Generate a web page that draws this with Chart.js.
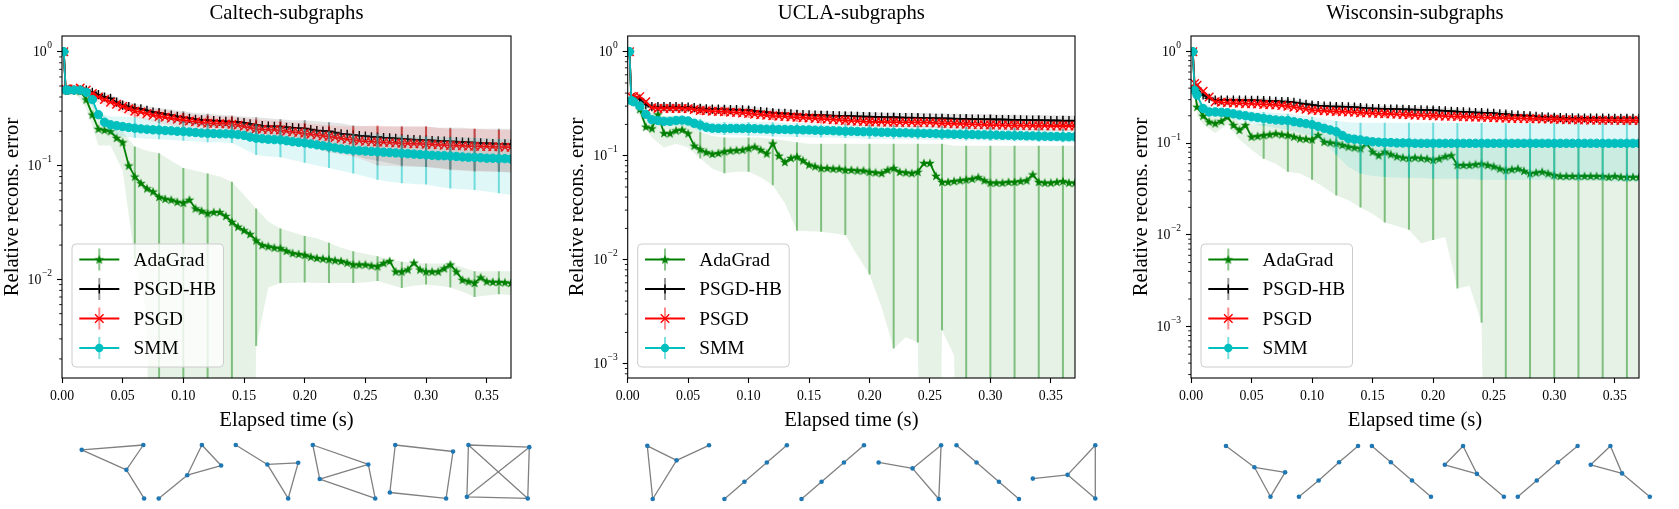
<!DOCTYPE html>
<html><head><meta charset="utf-8">
<script src="https://cdn.jsdelivr.net/npm/chart.js@4.4.0/dist/chart.umd.min.js"></script>
<style>
html,body{margin:0;padding:0;background:#fff;width:1679px;height:509px;overflow:hidden;position:relative}
canvas{position:absolute}
</style></head><body>
<canvas id="p0" width="560" height="434" style="left:0px;top:0px"></canvas>
<canvas id="p1" width="560" height="434" style="left:560px;top:0px"></canvas>
<canvas id="p2" width="560" height="434" style="left:1119px;top:0px"></canvas>
<canvas id="g0" width="472" height="75" style="left:70px;top:435px"></canvas>
<canvas id="g1" width="472" height="75" style="left:636px;top:435px"></canvas>
<canvas id="g2" width="448" height="75" style="left:1214px;top:435px"></canvas>
<script>
// ---------------- DATA ----------------
const TITLES = ['Caltech-subgraphs', 'UCLA-subgraphs', 'Wisconsin-subgraphs'];
const SERIES_NAMES = ['AdaGrad', 'PSGD-HB', 'PSGD', 'SMM'];
const X_TICKS = [0, 0.05, 0.1, 0.15, 0.2, 0.25, 0.3, 0.35];
const Y_MAJOR = [0.001, 0.01, 0.1, 1];
const X_LABEL = 'Elapsed time (s)';
const Y_LABEL = 'Relative recons. error';

// time stamps of the mean curves
const T = [0.0015,0.003,0.005,0.01,0.015,0.02,0.025,0.03,0.035,0.04,0.045,0.05,0.055,0.06,0.065,0.07,0.075,0.08,0.085,0.09,0.095,0.1,0.105,0.11,0.115,0.12,0.125,0.13,0.135,0.14,0.145,0.15,0.155,0.16,0.165,0.17,0.175,0.18,0.185,0.19,0.195,0.2,0.205,0.21,0.215,0.22,0.225,0.23,0.235,0.24,0.245,0.25,0.255,0.26,0.265,0.27,0.275,0.28,0.285,0.29,0.295,0.3,0.305,0.31,0.315,0.32,0.325,0.33,0.335,0.34,0.345,0.35,0.355,0.36,0.365,0.37];
// time stamps of the shaded bands (mean +/- std)
const TB = [0.005,0.01,0.02,0.03,0.04,0.05,0.06,0.07,0.08,0.09,0.1,0.11,0.12,0.13,0.14,0.15,0.16,0.17,0.18,0.19,0.2,0.21,0.22,0.23,0.24,0.25,0.26,0.27,0.28,0.29,0.3,0.31,0.32,0.33,0.34,0.35,0.36,0.37];
// times at which error bars are drawn
const ERR_T = [0.06,0.08,0.1,0.12,0.14,0.16,0.18,0.2,0.22,0.24,0.26,0.28,0.3,0.32,0.34,0.36];

// ---- Caltech ----
const caltechAdaGrad = [1.0,0.46,0.46,0.46,0.45,0.38,0.28,0.21,0.205,0.2,0.175,0.16,0.1,0.08,0.07,0.063,0.059,0.053,0.051,0.05,0.048,0.047,0.05,0.042,0.04,0.038,0.039,0.039,0.036,0.032,0.029,0.027,0.025,0.022,0.02,0.0195,0.019,0.0188,0.0178,0.017,0.0167,0.0164,0.0158,0.0154,0.0152,0.015,0.0147,0.0145,0.014,0.0135,0.0135,0.0135,0.0132,0.013,0.0139,0.0145,0.0117,0.0117,0.0122,0.014,0.0122,0.0117,0.0117,0.0117,0.0125,0.0135,0.0117,0.0099,0.0096,0.0093,0.0104,0.0096,0.0095,0.0095,0.0094,0.0093];
const caltechPsgdHb = [1.0,0.46,0.46,0.46,0.46,0.46,0.44,0.42,0.40,0.39,0.36,0.34,0.33,0.32,0.315,0.305,0.295,0.29,0.283,0.277,0.27,0.265,0.26,0.255,0.252,0.25,0.248,0.246,0.244,0.243,0.241,0.238,0.232,0.227,0.224,0.222,0.221,0.22,0.217,0.215,0.213,0.212,0.207,0.203,0.201,0.2,0.195,0.19,0.188,0.186,0.183,0.181,0.179,0.178,0.176,0.175,0.173,0.172,0.17,0.169,0.168,0.167,0.166,0.165,0.164,0.163,0.162,0.161,0.16,0.159,0.158,0.157,0.156,0.155,0.155,0.154];
const caltechPsgd = [1.0,0.47,0.47,0.47,0.48,0.46,0.43,0.40,0.38,0.36,0.345,0.33,0.315,0.30,0.295,0.285,0.277,0.27,0.265,0.26,0.255,0.25,0.246,0.242,0.238,0.235,0.234,0.233,0.232,0.231,0.226,0.22,0.215,0.21,0.208,0.207,0.206,0.205,0.2,0.197,0.195,0.192,0.188,0.185,0.182,0.18,0.176,0.173,0.17,0.168,0.165,0.163,0.162,0.161,0.16,0.159,0.158,0.157,0.156,0.155,0.155,0.154,0.153,0.152,0.151,0.15,0.15,0.149,0.148,0.148,0.147,0.147,0.146,0.146,0.145,0.145];
const caltechSmm = [1.0,0.46,0.46,0.46,0.46,0.44,0.38,0.28,0.24,0.228,0.224,0.22,0.216,0.213,0.21,0.208,0.206,0.205,0.203,0.202,0.2,0.199,0.197,0.195,0.193,0.192,0.191,0.19,0.19,0.189,0.187,0.184,0.178,0.174,0.172,0.17,0.169,0.168,0.165,0.162,0.16,0.158,0.155,0.152,0.149,0.146,0.143,0.14,0.138,0.136,0.135,0.134,0.133,0.132,0.131,0.13,0.129,0.128,0.127,0.126,0.125,0.124,0.123,0.122,0.122,0.121,0.12,0.119,0.118,0.118,0.117,0.116,0.116,0.115,0.115,0.114];
const caltechAdaGradHi = [0.47,0.47,0.45,0.30,0.25,0.2,0.147,0.135,0.128,0.11,0.095,0.09,0.085,0.08,0.072,0.055,0.042,0.032,0.028,0.026,0.024,0.023,0.021,0.019,0.0177,0.0168,0.016,0.015,0.0143,0.014,0.0138,0.0138,0.0138,0.0128,0.0118,0.0118,0.0118,0.0118];
const caltechAdaGradLo = [0.45,0.45,0.32,0.15,0.15,0.09,0.015,0.005,0,0,0,0,0,0,0,0,0.0026,0.0085,0.0093,0.0093,0.0094,0.0093,0.0093,0.0093,0.0093,0.0094,0.0097,0.009,0.0084,0.0088,0.009,0.0088,0.0085,0.0078,0.007,0.0072,0.0074,0.0073];
const caltechPsgdHbHi = [0.47,0.47,0.48,0.45,0.42,0.37,0.35,0.33,0.32,0.31,0.3,0.29,0.285,0.28,0.275,0.27,0.265,0.26,0.255,0.25,0.25,0.245,0.24,0.235,0.225,0.222,0.22,0.22,0.22,0.22,0.22,0.215,0.215,0.215,0.21,0.21,0.21,0.21];
const caltechPsgdHbLo = [0.45,0.45,0.44,0.39,0.35,0.31,0.29,0.28,0.26,0.25,0.235,0.225,0.22,0.215,0.21,0.2,0.19,0.185,0.18,0.175,0.17,0.16,0.155,0.145,0.125,0.115,0.11,0.105,0.1,0.098,0.097,0.095,0.093,0.091,0.09,0.089,0.088,0.087];
const caltechPsgdHi = [0.49,0.49,0.49,0.44,0.4,0.37,0.34,0.32,0.31,0.3,0.29,0.28,0.275,0.27,0.27,0.26,0.255,0.25,0.245,0.24,0.235,0.23,0.225,0.222,0.22,0.222,0.225,0.222,0.22,0.22,0.22,0.215,0.21,0.21,0.21,0.207,0.205,0.205];
const caltechPsgdLo = [0.45,0.45,0.43,0.36,0.32,0.29,0.265,0.25,0.235,0.225,0.215,0.205,0.2,0.195,0.19,0.18,0.17,0.165,0.16,0.155,0.15,0.14,0.13,0.125,0.12,0.11,0.1,0.099,0.098,0.098,0.097,0.094,0.091,0.09,0.088,0.088,0.088,0.087];
const caltechSmmHi = [0.47,0.47,0.46,0.29,0.27,0.27,0.265,0.26,0.255,0.25,0.245,0.24,0.235,0.235,0.235,0.235,0.23,0.225,0.22,0.215,0.21,0.205,0.2,0.195,0.19,0.19,0.19,0.185,0.185,0.18,0.18,0.178,0.178,0.176,0.175,0.174,0.172,0.17];
const caltechSmmLo = [0.45,0.45,0.42,0.26,0.19,0.18,0.175,0.172,0.17,0.168,0.165,0.163,0.16,0.16,0.158,0.14,0.124,0.12,0.118,0.112,0.106,0.1,0.095,0.09,0.085,0.08,0.075,0.072,0.07,0.069,0.068,0.065,0.063,0.062,0.061,0.059,0.057,0.055];

// ---- UCLA ----
const uclaAdaGrad = [1.0,0.34,0.33,0.28,0.19,0.183,0.25,0.165,0.164,0.175,0.178,0.164,0.125,0.115,0.108,0.104,0.106,0.11,0.112,0.113,0.114,0.118,0.122,0.114,0.105,0.131,0.1,0.087,0.095,0.098,0.09,0.082,0.079,0.076,0.076,0.075,0.075,0.073,0.073,0.072,0.072,0.07,0.069,0.068,0.073,0.076,0.07,0.069,0.068,0.07,0.085,0.085,0.064,0.056,0.056,0.057,0.058,0.059,0.06,0.062,0.058,0.055,0.055,0.055,0.056,0.056,0.057,0.058,0.066,0.056,0.055,0.055,0.056,0.057,0.055,0.055];
const uclaPsgdHb = [1.0,0.36,0.36,0.35,0.31,0.296,0.296,0.296,0.296,0.296,0.295,0.294,0.29,0.285,0.283,0.281,0.28,0.279,0.278,0.277,0.276,0.275,0.27,0.266,0.262,0.259,0.256,0.255,0.252,0.25,0.248,0.247,0.246,0.245,0.244,0.243,0.242,0.241,0.24,0.239,0.238,0.237,0.236,0.235,0.234,0.234,0.233,0.232,0.232,0.231,0.23,0.23,0.229,0.228,0.228,0.227,0.226,0.226,0.225,0.225,0.224,0.224,0.223,0.223,0.222,0.221,0.221,0.22,0.22,0.219,0.219,0.218,0.218,0.217,0.217,0.217];
const uclaPsgd = [1.0,0.37,0.37,0.37,0.33,0.29,0.285,0.285,0.285,0.285,0.284,0.283,0.278,0.272,0.27,0.268,0.266,0.264,0.262,0.26,0.258,0.255,0.251,0.248,0.245,0.242,0.24,0.238,0.236,0.234,0.232,0.23,0.228,0.226,0.224,0.222,0.22,0.218,0.216,0.215,0.213,0.212,0.211,0.211,0.21,0.21,0.209,0.209,0.209,0.208,0.208,0.208,0.206,0.205,0.204,0.203,0.202,0.201,0.2,0.199,0.198,0.197,0.197,0.196,0.196,0.195,0.195,0.195,0.194,0.194,0.194,0.193,0.193,0.193,0.193,0.193];
const uclaSmm = [1.0,0.34,0.33,0.3,0.25,0.222,0.218,0.214,0.214,0.218,0.22,0.216,0.205,0.197,0.188,0.184,0.183,0.183,0.183,0.183,0.183,0.183,0.182,0.181,0.18,0.18,0.179,0.179,0.178,0.178,0.177,0.177,0.176,0.175,0.175,0.174,0.173,0.172,0.172,0.171,0.17,0.17,0.169,0.168,0.168,0.167,0.166,0.166,0.165,0.165,0.164,0.164,0.163,0.162,0.162,0.161,0.161,0.16,0.16,0.159,0.159,0.158,0.158,0.157,0.157,0.156,0.156,0.155,0.155,0.154,0.154,0.153,0.153,0.152,0.152,0.152];
const uclaAdaGradHi = [0.34,0.32,0.26,0.24,0.24,0.22,0.17,0.155,0.15,0.15,0.15,0.15,0.145,0.14,0.135,0.13,0.13,0.13,0.13,0.13,0.13,0.13,0.13,0.13,0.13,0.13,0.13,0.125,0.125,0.125,0.125,0.125,0.125,0.125,0.125,0.125,0.125,0.125];
const uclaAdaGradLo = [0.32,0.24,0.15,0.12,0.13,0.12,0.094,0.075,0.068,0.07,0.07,0.062,0.052,0.035,0.019,0.0188,0.0186,0.018,0.0173,0.011,0.0072,0.0035,0.0014,0.0018,0.0016,0,0.0021,0.0012,0,0,0,0,0,0,0,0,0,0];
const uclaPsgdHbHi = [0.38,0.37,0.32,0.32,0.32,0.315,0.31,0.305,0.303,0.3,0.298,0.29,0.283,0.279,0.275,0.272,0.27,0.268,0.266,0.264,0.262,0.26,0.259,0.258,0.257,0.256,0.254,0.253,0.252,0.251,0.25,0.249,0.248,0.247,0.246,0.245,0.244,0.244];
const uclaPsgdHbLo = [0.34,0.33,0.275,0.275,0.275,0.273,0.262,0.258,0.256,0.254,0.252,0.243,0.236,0.232,0.228,0.225,0.222,0.22,0.218,0.216,0.214,0.212,0.21,0.208,0.207,0.206,0.204,0.203,0.202,0.201,0.2,0.199,0.198,0.197,0.196,0.195,0.194,0.194];
const uclaPsgdHi = [0.4,0.4,0.315,0.312,0.312,0.31,0.3,0.295,0.29,0.286,0.282,0.274,0.268,0.264,0.26,0.256,0.252,0.248,0.244,0.24,0.237,0.236,0.235,0.234,0.233,0.233,0.23,0.228,0.226,0.224,0.222,0.221,0.22,0.219,0.218,0.217,0.217,0.217];
const uclaPsgdLo = [0.34,0.34,0.265,0.262,0.262,0.26,0.248,0.245,0.242,0.238,0.232,0.226,0.22,0.216,0.212,0.208,0.204,0.2,0.196,0.193,0.19,0.189,0.188,0.187,0.186,0.186,0.183,0.181,0.179,0.177,0.176,0.175,0.174,0.174,0.173,0.172,0.172,0.172];
const uclaSmmHi = [0.34,0.32,0.25,0.24,0.245,0.24,0.225,0.21,0.21,0.21,0.21,0.21,0.21,0.205,0.205,0.205,0.2,0.2,0.2,0.198,0.197,0.196,0.195,0.194,0.193,0.192,0.191,0.19,0.189,0.188,0.187,0.186,0.185,0.184,0.183,0.182,0.181,0.18];
const uclaSmmLo = [0.32,0.28,0.2,0.19,0.195,0.19,0.172,0.16,0.158,0.157,0.156,0.155,0.153,0.152,0.151,0.15,0.15,0.149,0.148,0.146,0.145,0.145,0.144,0.144,0.143,0.142,0.142,0.141,0.14,0.14,0.139,0.138,0.138,0.137,0.136,0.136,0.135,0.135];

// ---- Wisconsin ----
const wiscAdaGrad = [1.0,0.38,0.25,0.2,0.172,0.165,0.175,0.195,0.158,0.14,0.158,0.118,0.12,0.123,0.125,0.128,0.125,0.123,0.118,0.113,0.112,0.11,0.123,0.104,0.102,0.1,0.096,0.092,0.09,0.088,0.1,0.081,0.074,0.081,0.076,0.072,0.07,0.069,0.07,0.069,0.068,0.066,0.068,0.072,0.074,0.058,0.058,0.058,0.059,0.06,0.058,0.056,0.053,0.051,0.052,0.053,0.05,0.047,0.048,0.049,0.047,0.045,0.044,0.044,0.044,0.044,0.044,0.044,0.044,0.044,0.043,0.044,0.043,0.043,0.043,0.043];
const wiscPsgdHb = [1.0,0.42,0.4,0.337,0.31,0.297,0.297,0.297,0.297,0.297,0.296,0.295,0.294,0.292,0.29,0.288,0.286,0.285,0.28,0.273,0.267,0.262,0.258,0.255,0.253,0.252,0.251,0.25,0.248,0.245,0.242,0.24,0.239,0.238,0.237,0.236,0.235,0.234,0.233,0.232,0.231,0.23,0.228,0.226,0.224,0.222,0.22,0.219,0.217,0.216,0.214,0.213,0.21,0.208,0.205,0.203,0.201,0.2,0.197,0.195,0.193,0.192,0.191,0.19,0.19,0.189,0.189,0.188,0.188,0.188,0.187,0.187,0.187,0.187,0.187,0.187];
const wiscPsgd = [1.0,0.45,0.43,0.37,0.32,0.285,0.28,0.277,0.275,0.273,0.271,0.27,0.268,0.266,0.264,0.262,0.258,0.254,0.248,0.242,0.236,0.23,0.228,0.226,0.224,0.222,0.221,0.22,0.218,0.216,0.214,0.213,0.211,0.21,0.209,0.207,0.206,0.205,0.203,0.202,0.201,0.2,0.199,0.198,0.197,0.196,0.195,0.194,0.193,0.192,0.191,0.19,0.189,0.188,0.187,0.187,0.186,0.185,0.185,0.184,0.184,0.183,0.182,0.181,0.181,0.18,0.18,0.179,0.179,0.178,0.178,0.178,0.177,0.177,0.177,0.177];
const wiscSmm = [1.0,0.38,0.337,0.24,0.22,0.22,0.218,0.216,0.21,0.204,0.2,0.195,0.191,0.187,0.183,0.18,0.178,0.177,0.172,0.168,0.164,0.16,0.153,0.146,0.14,0.134,0.122,0.113,0.111,0.109,0.106,0.104,0.103,0.102,0.102,0.101,0.101,0.101,0.1,0.1,0.1,0.1,0.1,0.1,0.1,0.1,0.1,0.1,0.1,0.1,0.1,0.1,0.1,0.1,0.1,0.1,0.1,0.1,0.1,0.1,0.1,0.1,0.1,0.1,0.1,0.1,0.1,0.1,0.1,0.1,0.1,0.1,0.1,0.1,0.1,0.1];
const wiscAdaGradHi = [0.35,0.25,0.2,0.22,0.17,0.16,0.165,0.165,0.16,0.155,0.15,0.145,0.14,0.13,0.12,0.115,0.11,0.108,0.105,0.103,0.1,0.098,0.096,0.095,0.095,0.095,0.095,0.095,0.095,0.095,0.095,0.095,0.095,0.095,0.095,0.095,0.095,0.095];
const wiscAdaGradLo = [0.2,0.16,0.13,0.16,0.11,0.085,0.068,0.06,0.049,0.047,0.04,0.033,0.027,0.024,0.02,0.017,0.0137,0.0125,0.0114,0.0081,0.0088,0.0095,0.0026,0.0028,0.0011,0,0,0,0,0,0,0,0,0,0,0,0,0];
const wiscPsgdHbHi = [0.44,0.37,0.32,0.32,0.32,0.318,0.315,0.31,0.307,0.295,0.283,0.275,0.272,0.27,0.265,0.259,0.257,0.255,0.253,0.251,0.249,0.244,0.24,0.237,0.233,0.23,0.225,0.219,0.216,0.211,0.207,0.205,0.204,0.203,0.203,0.202,0.202,0.202];
const wiscPsgdHbLo = [0.36,0.31,0.275,0.275,0.275,0.273,0.27,0.266,0.263,0.251,0.241,0.235,0.232,0.23,0.225,0.221,0.219,0.217,0.215,0.213,0.211,0.208,0.204,0.201,0.199,0.196,0.191,0.187,0.184,0.179,0.177,0.175,0.174,0.173,0.173,0.172,0.172,0.172];
const wiscPsgdHi = [0.47,0.4,0.31,0.3,0.296,0.292,0.288,0.283,0.275,0.262,0.249,0.244,0.24,0.238,0.233,0.23,0.227,0.224,0.221,0.218,0.216,0.214,0.212,0.21,0.207,0.205,0.203,0.202,0.2,0.199,0.198,0.196,0.194,0.193,0.192,0.192,0.191,0.191];
const wiscPsgdLo = [0.39,0.34,0.26,0.254,0.25,0.248,0.244,0.241,0.233,0.222,0.211,0.208,0.204,0.202,0.199,0.196,0.193,0.19,0.189,0.186,0.184,0.182,0.18,0.178,0.177,0.175,0.173,0.172,0.17,0.169,0.168,0.166,0.166,0.165,0.164,0.164,0.163,0.163];
const wiscSmmHi = [0.36,0.27,0.25,0.245,0.235,0.225,0.22,0.215,0.21,0.2,0.195,0.185,0.175,0.17,0.168,0.168,0.168,0.168,0.168,0.168,0.168,0.167,0.167,0.167,0.167,0.167,0.166,0.166,0.166,0.166,0.166,0.166,0.165,0.165,0.165,0.165,0.165,0.165];
const wiscSmmLo = [0.31,0.21,0.195,0.19,0.175,0.165,0.155,0.148,0.14,0.13,0.12,0.1,0.075,0.055,0.047,0.044,0.043,0.042,0.042,0.042,0.041,0.041,0.041,0.041,0.04,0.04,0.04,0.04,0.04,0.04,0.04,0.039,0.039,0.039,0.039,0.038,0.038,0.038];

// ---- small subgraph drawings (node layouts in a unit box, edges as node index pairs) ----
const caltechGraphNodes = [
  [[0,0.91],[0.80,1],[0.58,0.54],[0.81,0.01]],
  [[0.56,1],[0.81,0.62],[0.37,0.44],[0,0.01]],
  [[0,1],[0.41,0.64],[0.81,0.67],[0.68,0.01]],
  [[0,1],[0.72,0.64],[0.09,0.37],[0.81,0.01]],
  [[0.07,1],[0.82,0.88],[0,0.12],[0.73,0.01]],
  [[0.02,1],[0.81,0.96],[0,0.04],[0.79,0.01]]
];
const caltechGraphEdges = [
  [[0,1],[0,2],[1,2],[2,3]],
  [[0,1],[1,2],[0,2],[2,3]],
  [[0,1],[1,2],[1,3],[2,3]],
  [[0,1],[0,2],[1,2],[2,3],[1,3]],
  [[0,1],[1,3],[3,2],[2,0]],
  [[0,1],[0,2],[0,3],[1,2],[1,3],[2,3]]
];
const uclaGraphNodes = [
  [[0,0.99],[0.80,1],[0.38,0.72],[0.07,0]],
  [[0,0],[0.26,0.32],[0.55,0.68],[0.81,1]],
  [[0,0],[0.26,0.32],[0.55,0.68],[0.81,1]],
  [[0,0.68],[0.44,0.57],[0.81,1],[0.78,0]],
  [[0.01,1],[0.27,0.68],[0.56,0.32],[0.82,0]],
  [[0,0.38],[0.45,0.45],[0.81,1],[0.81,0.01]]
];
const uclaGraphEdges = [
  [[0,2],[1,2],[2,3],[0,3]],
  [[0,1],[1,2],[2,3]],
  [[0,1],[1,2],[2,3]],
  [[0,1],[1,2],[1,3],[2,3]],
  [[0,1],[1,2],[2,3]],
  [[0,1],[1,2],[1,3],[2,3]]
];
const wiscGraphNodes = [
  [[0,1],[0.39,0.58],[0.81,0.48],[0.61,0]],
  [[0,0],[0.27,0.32],[0.55,0.68],[0.81,1]],
  [[0,1],[0.26,0.68],[0.55,0.32],[0.81,0]],
  [[0.25,1],[0,0.63],[0.44,0.45],[0.81,0]],
  [[0,0],[0.26,0.32],[0.55,0.68],[0.82,1]],
  [[0.27,1],[0,0.63],[0.43,0.46],[0.81,0]]
];
const wiscGraphEdges = [
  [[0,1],[1,2],[1,3],[2,3]],
  [[0,1],[1,2],[2,3]],
  [[0,1],[1,2],[2,3]],
  [[0,1],[1,2],[0,2],[2,3]],
  [[0,1],[1,2],[2,3]],
  [[0,1],[1,2],[0,2],[2,3]]
];

// ---------------- STYLE / BUILD ----------------
const FONT = "'Liberation Serif','Times New Roman',serif";
Chart.defaults.font.family = FONT;
Chart.defaults.color = '#000';
Chart.defaults.animation = false;

function makeStar(color) {
  const c = document.createElement('canvas');
  c.width = 12; c.height = 12;
  const x = c.getContext('2d');
  x.fillStyle = color;
  x.beginPath();
  for (let i = 0; i < 10; i++) {
    const r = i % 2 === 0 ? 5.2 : 2.1;
    const a = -Math.PI / 2 + i * Math.PI / 5;
    x.lineTo(6 + r * Math.cos(a), 6.4 + r * Math.sin(a));
  }
  x.closePath(); x.fill();
  return c;
}

const STYLES = [
  {label: SERIES_NAMES[0], color:'#008000', band:'rgba(0,128,0,0.10)', err:'rgba(0,128,0,0.45)', point: makeStar('#008000'), radius:5, pbw:1},
  {label: SERIES_NAMES[1], color:'#000000', band:'rgba(0,0,0,0.10)', err:'rgba(0,0,0,0.40)', point:'cross', radius:4.6, pbw:1.4},
  {label: SERIES_NAMES[2], color:'#ff0000', band:'rgba(255,0,0,0.10)', err:'rgba(255,0,0,0.45)', point:'crossRot', radius:6, pbw:1.4},
  {label: SERIES_NAMES[3], color:'#00bfbf', band:'rgba(0,191,191,0.12)', err:'rgba(0,191,191,0.5)', point:'circle', radius:4.2, pbw:1}
];

const PANELS = [
  {id:'p0', title:TITLES[0], yMin:0.00136, yMax:1.374, padL:0, padR:49,
   mean:[caltechAdaGrad, caltechPsgdHb, caltechPsgd, caltechSmm],
   hi:[caltechAdaGradHi, caltechPsgdHbHi, caltechPsgdHi, caltechSmmHi],
   lo:[caltechAdaGradLo, caltechPsgdHbLo, caltechPsgdLo, caltechSmmLo]},
  {id:'p1', title:TITLES[1], yMin:0.000729, yMax:1.416, padL:5.7, padR:45,
   mean:[uclaAdaGrad, uclaPsgdHb, uclaPsgd, uclaSmm],
   hi:[uclaAdaGradHi, uclaPsgdHbHi, uclaPsgdHi, uclaSmmHi],
   lo:[uclaAdaGradLo, uclaPsgdHbLo, uclaPsgdLo, uclaSmmLo]},
  {id:'p2', title:TITLES[2], yMin:0.000275, yMax:1.483, padL:10, padR:40,
   mean:[wiscAdaGrad, wiscPsgdHb, wiscPsgd, wiscSmm],
   hi:[wiscAdaGradHi, wiscPsgdHbHi, wiscPsgdHi, wiscSmmHi],
   lo:[wiscAdaGradLo, wiscPsgdHbLo, wiscPsgdLo, wiscSmmLo]}
];

// values at/below zero lie under the axis floor: send them far below (clipped)
const floorv = v => (v > 0 ? v : 1e-12);

function legendMarker(ctx, s, x, y) {
  ctx.save();
  ctx.fillStyle = s.color; ctx.strokeStyle = s.color; ctx.lineWidth = s.pbw;
  if (s.point instanceof HTMLCanvasElement) {
    ctx.drawImage(s.point, x - s.point.width / 2, y - s.point.height / 2);
  } else if (s.point === 'circle') {
    ctx.beginPath(); ctx.arc(x, y, s.radius, 0, Math.PI * 2); ctx.fill();
  } else if (s.point === 'cross') {
    ctx.beginPath(); ctx.moveTo(x - s.radius, y); ctx.lineTo(x + s.radius, y);
    ctx.moveTo(x, y - s.radius); ctx.lineTo(x, y + s.radius); ctx.stroke();
  } else {
    const d = s.radius * Math.SQRT1_2;
    ctx.beginPath(); ctx.moveTo(x - d, y - d); ctx.lineTo(x + d, y + d);
    ctx.moveTo(x + d, y - d); ctx.lineTo(x - d, y + d); ctx.stroke();
  }
  ctx.restore();
}

const decor = {
  id: 'decor',
  afterDraw(chart) {
    const {ctx, chartArea: a, scales: {y}} = chart;
    ctx.save();
    // frame (all four spines)
    ctx.strokeStyle = '#000'; ctx.lineWidth = 1.1;
    ctx.strokeRect(a.left, a.top, a.right - a.left, a.bottom - a.top);
    // minor log ticks
    ctx.lineWidth = 0.9;
    const k0 = Math.floor(Math.log10(y.min)), k1 = Math.ceil(Math.log10(y.max));
    for (let k = k0; k <= k1; k++) {
      for (let m = 2; m <= 9; m++) {
        const v = m * Math.pow(10, k);
        if (v < y.min || v > y.max) continue;
        const py = y.getPixelForValue(v);
        ctx.beginPath(); ctx.moveTo(a.left, py); ctx.lineTo(a.left - 2.8, py); ctx.stroke();
      }
    }
    // major tick labels 10^k
    ctx.fillStyle = '#000';
    ctx.textAlign = 'right'; ctx.textBaseline = 'middle';
    y.ticks.forEach(t => {
      const py = y.getPixelForValue(t.value);
      const e = Math.round(Math.log10(t.value));
      const expTxt = e < 0 ? '\u2212' + (-e) : String(e);
      const xr = a.left - 10;
      ctx.font = '9.5px ' + FONT;
      ctx.fillText(expTxt, xr, py - 6);
      const ew = ctx.measureText(expTxt).width;
      ctx.font = '13.8px ' + FONT;
      ctx.fillText('10', xr - ew - 0.5, py + 0.5);
    });
    // legend
    const bw = 151.5, bh = 123;
    const bx = a.left + 10, by = a.bottom - 11 - bh;
    ctx.beginPath();
    ctx.roundRect(bx, by, bw, bh, 4);
    ctx.fillStyle = 'rgba(255,255,255,0.8)'; ctx.fill();
    ctx.strokeStyle = '#cccccc'; ctx.lineWidth = 1; ctx.stroke();
    STYLES.forEach((s, i) => {
      const cy = by + 15.5 + 29.5 * i;
      const mx = bx + 27.3;
      ctx.strokeStyle = s.err; ctx.lineWidth = 2;
      ctx.beginPath(); ctx.moveTo(mx, cy - 11); ctx.lineTo(mx, cy + 11); ctx.stroke();
      ctx.strokeStyle = s.color; ctx.lineWidth = 1.8;
      ctx.beginPath(); ctx.moveTo(bx + 7.3, cy); ctx.lineTo(bx + 47.3, cy); ctx.stroke();
      legendMarker(ctx, s, mx, cy);
      ctx.fillStyle = '#000'; ctx.font = '19.3px ' + FONT;
      ctx.textAlign = 'left'; ctx.textBaseline = 'middle';
      ctx.fillText(s.label, bx + 61.6, cy + 1);
    });
    ctx.restore();
  }
};

PANELS.forEach(P => {
  const datasets = [];
  let order = 100;
  STYLES.forEach((s, si) => {
    const hi = P.hi[si], lo = P.lo[si], m = P.mean[si];
    datasets.push({data: TB.map((t, i) => ({x: t, y: hi[i]})), borderWidth: 0, borderColor: 'rgba(0,0,0,0)',
      pointRadius: 0, fill: '+1', backgroundColor: s.band, order: order--});
    datasets.push({data: TB.map((t, i) => ({x: t, y: floorv(lo[i])})), borderWidth: 0, borderColor: 'rgba(0,0,0,0)',
      pointRadius: 0, fill: false, order: order--});
    const e = [];
    ERR_T.forEach(t => {
      const j = TB.indexOf(t);
      if (j < 0) return;
      e.push({x: t, y: floorv(lo[j])}, {x: t, y: hi[j]}, {x: t, y: null});
    });
    datasets.push({data: e, borderColor: s.err, borderWidth: 2, pointRadius: 0, fill: false, spanGaps: false, order: order--});
    datasets.push({label: s.label, data: T.map((t, i) => ({x: t, y: m[i]})), borderColor: s.color, borderWidth: 1.8,
      pointStyle: s.point, pointRadius: s.radius, pointBorderWidth: s.pbw, pointBackgroundColor: s.color,
      pointBorderColor: s.color, fill: false, order: order--});
  });

  new Chart(document.getElementById(P.id), {
    type: 'line',
    data: {datasets},
    options: {
      responsive: false, devicePixelRatio: 1, animation: false, events: [],
      layout: {padding: {left: P.padL, right: P.padR, top: 0, bottom: 0}},
      plugins: {
        legend: {display: false}, tooltip: {enabled: false},
        title: {display: true, text: P.title, fullSize: false, color: '#000',
          font: {family: FONT, size: 20.7, weight: 'normal', lineHeight: 1}, padding: {top: 3, bottom: 12.3}}
      },
      scales: {
        x: {
          type: 'linear', min: 0, max: 0.37,
          afterBuildTicks: sc => { sc.ticks = X_TICKS.map(v => ({value: v})); },
          afterFit: sc => { sc.height = 56; },
          ticks: {callback: v => Number(v).toFixed(2), font: {family: FONT, size: 13.8}, color: '#000', padding: 5.5, maxRotation: 0, autoSkip: false},
          grid: {drawOnChartArea: false, drawTicks: true, tickLength: 5, tickColor: '#000', tickWidth: 1.1},
          border: {display: false},
          title: {display: true, text: X_LABEL, color: '#000', font: {family: FONT, size: 20.7, lineHeight: 1}, padding: {top: 0, bottom: 3}}
        },
        y: {
          type: 'logarithmic', min: P.yMin, max: P.yMax,
          afterBuildTicks: sc => { sc.ticks = Y_MAJOR.filter(v => v >= sc.min && v <= sc.max).map(v => ({value: v, major: true})); },
          afterFit: sc => { sc.width = 62; },
          ticks: {callback: () => '', font: {family: FONT, size: 13.8}},
          grid: {drawOnChartArea: false, drawTicks: true, tickLength: 5, tickColor: '#000', tickWidth: 1.1},
          border: {display: false},
          title: {display: true, text: Y_LABEL, color: '#000', font: {family: FONT, size: 20.7, lineHeight: 1}, padding: {top: 2, bottom: 0}}
        }
      }
    },
    plugins: [decor]
  });
});

// ---- subgraph strips ----
const GRAPH_STRIPS = [
  {id:'g0', nodes: caltechGraphNodes, edges: caltechGraphEdges, pad: {left: 11.7, right: 12.7, top: 10, bottom: 11}},
  {id:'g1', nodes: uclaGraphNodes, edges: uclaGraphEdges, pad: {left: 11.3, right: 12.7, top: 10.3, bottom: 11}},
  {id:'g2', nodes: wiscGraphNodes, edges: wiscGraphEdges, pad: {left: 12, right: 12.2, top: 11, bottom: 13.3}}
];
GRAPH_STRIPS.forEach(G => {
  const nodePts = [], edgePts = [];
  G.nodes.forEach((g, k) => {
    g.forEach(p => nodePts.push({x: k + p[0], y: p[1]}));
    G.edges[k].forEach(([i, j]) => {
      edgePts.push({x: k + g[i][0], y: g[i][1]}, {x: k + g[j][0], y: g[j][1]}, {x: k, y: null});
    });
  });
  new Chart(document.getElementById(G.id), {
    type: 'scatter',
    data: {datasets: [
      {data: nodePts, showLine: false, pointRadius: 2.3, pointBackgroundColor: '#1f77b4', pointBorderColor: '#1f77b4', pointBorderWidth: 0, order: 0, clip: false},
      {data: edgePts, showLine: true, spanGaps: false, borderColor: '#808080', borderWidth: 1.3, pointRadius: 0, order: 1, clip: false}
    ]},
    options: {
      responsive: false, devicePixelRatio: 1, animation: false, events: [],
      layout: {padding: G.pad},
      plugins: {legend: {display: false}, tooltip: {enabled: false}},
      scales: {
        x: {type: 'linear', min: 0, max: 5.81, display: false},
        y: {type: 'linear', min: 0, max: 1, display: false}
      }
    }
  });
});
</script>
</body></html>
